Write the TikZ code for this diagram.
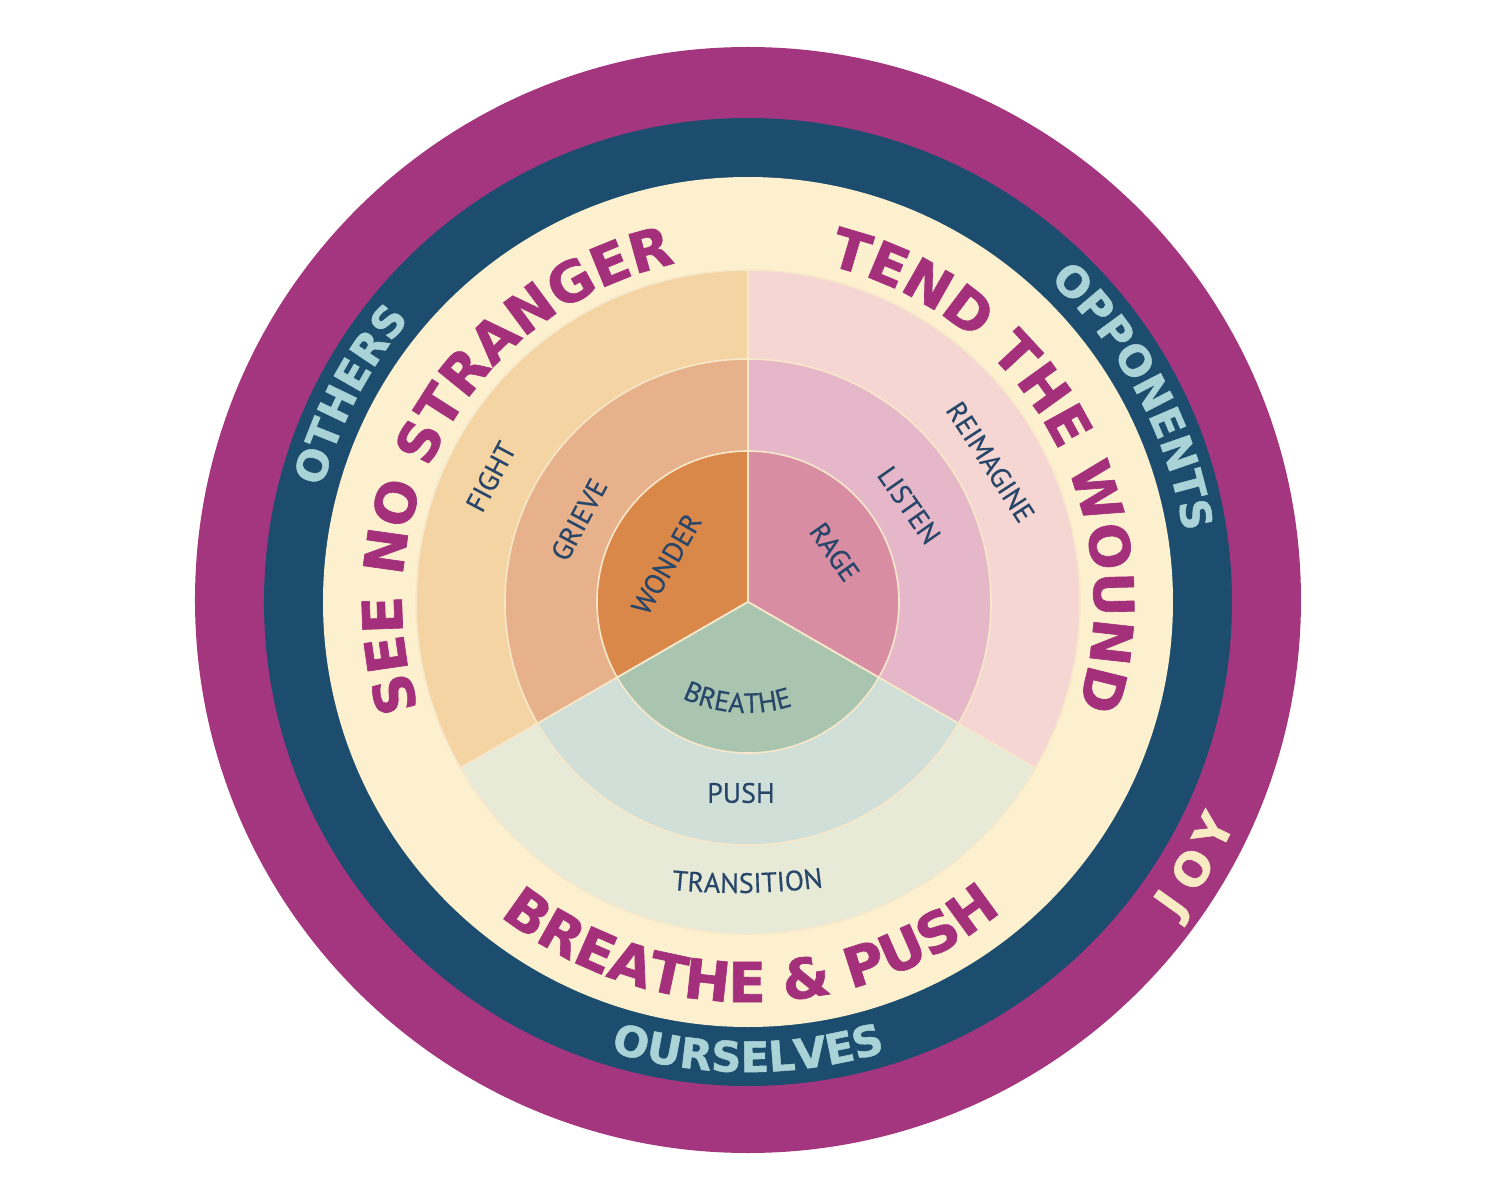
\documentclass[tikz,border=0pt]{standalone}
\usepackage{fontspec}
\usetikzlibrary{decorations.text}
\newfontfamily\ttlfont{DejaVu Sans}[UprightFont={* Bold}, FakeBold=1.2]
\newfontfamily\lblfont{PT Sans}[FakeBold=0.4]
\definecolor{ringmag}{HTML}{A3367F}
\definecolor{ringnavy}{HTML}{1C4C6E}
\definecolor{creamc}{HTML}{FCF0CE}
\definecolor{ttlc}{HTML}{A4307C}
\definecolor{ringtxt}{HTML}{A9D3D6}
\definecolor{joyc}{HTML}{F8EAC2}
\definecolor{lblc}{HTML}{27466A}
\definecolor{sepc}{HTML}{F7E8CB}
\definecolor{orA}{HTML}{F4D4A2}
\definecolor{orB}{HTML}{E7B28B}
\definecolor{orC}{HTML}{DA8849}
\definecolor{pkA}{HTML}{F5D6D2}
\definecolor{pkB}{HTML}{E6B7C8}
\definecolor{pkC}{HTML}{D98DA3}
\definecolor{gnA}{HTML}{E7EAD7}
\definecolor{gnB}{HTML}{D0DFD7}
\definecolor{gnC}{HTML}{A9C5AF}
\tikzset{
  sectorsep/.style={draw=sepc, line width=1.6pt},
  smalllbl/.style={font=\lblfont\fontsize{28}{28}\selectfont, text=lblc, inner sep=0pt},
  joyl/.style={font=\ttlfont\fontsize{46}{46}\selectfont, text=joyc, inner sep=0pt, anchor=base},
}
% text with tops outward (clockwise path): center, mid angle, radius, size, colour, text, half span
\newcommand\ArcTextOut[7]{%
  \begin{scope}[shift={#1}]
  \path[decorate, decoration={text along path, text align=center, text color=#5,
     text={|\ttlfont\fontsize{#4}{#4}\selectfont|#6}}]
     (#2+#7:#3) arc[start angle=#2+#7, end angle=#2-#7, radius=#3];
  \end{scope}}
% text with tops inward (counter-clockwise path)
\newcommand\ArcTextIn[8]{%
  \begin{scope}[shift={#1}]
  \path[decorate, decoration={text along path, text align=center, text color=#5,
     text={|#8\fontsize{#4}{#4}\selectfont|#6}}]
     (#2-#7:#3) arc[start angle=#2-#7, end angle=#2+#7, radius=#3];
  \end{scope}}
\begin{document}
\begin{tikzpicture}[x=1pt,y=1pt]
\useasboundingbox (-748,-598) rectangle (752,602);
\fill[white] (-748,-598) rectangle (752,602);
\fill[ringmag] (0,2) circle[radius=553];
\fill[ringnavy] (0,0) circle[radius=484];
\fill[creamc] (0,0) circle[radius=425];
\foreach \a/\b/\ca/\cb/\cc in {90/210/orA/orB/orC,-30/90/pkA/pkB/pkC,210/330/gnA/gnB/gnC}{
  \filldraw[fill=\ca, sectorsep] (0,0) -- (\a:332) arc[start angle=\a, end angle=\b, radius=332] -- cycle;
  \filldraw[fill=\cb, sectorsep] (0,0) -- (\a:243) arc[start angle=\a, end angle=\b, radius=243] -- cycle;
  \filldraw[fill=\cc, sectorsep] (0,0) -- (\a:151) arc[start angle=\a, end angle=\b, radius=151] -- cycle;
}
% titles on the cream ring
\ArcTextOut{(0,0)}{150}{346}{55}{ttlc}{SEE NO STRANGER}{80}
\ArcTextOut{(0,0)}{29.5}{346}{55}{ttlc}{TEND THE WOUND}{80}
\ArcTextIn{(0,0)}{270.5}{400}{55}{ttlc}{BREATHE {\&} PUSH}{80}{\ttlfont}
% labels on the blue ring
\ArcTextOut{(0,0)}{152.5}{441}{42}{ringtxt}{OTHERS}{60}
\ArcTextOut{(0,0)}{28}{441}{42}{ringtxt}{OPPONENTS}{60}
\ArcTextIn{(0,0)}{270}{470}{42}{ringtxt}{OURSELVES}{60}{\ttlfont}
% JOY on the magenta ring
\node[joyl, rotate=54.5] (joyJ) at (-35.5:535) {J};
\node[joyl, rotate=59] (joyO) at (-31:535) {O};
\node[joyl, rotate=63.8] (joyY) at (-26.2:535) {Y};
% sector labels
\node[smalllbl, rotate=62] (fight) at (154:286) {FIGHT};
\node[smalllbl, rotate=62] (grieve) at (154:188) {GRIEVE};
\node[smalllbl, rotate=60] (wonder) at (155:90) {WONDER};
\node[smalllbl, rotate=-55] (rage) at (30:100) {RAGE};
\node[smalllbl, rotate=-55] (listen) at (31:188) {LISTEN};
\node[smalllbl, rotate=-57] (reimagine) at (30:280) {REIMAGINE};
\node[smalllbl] (push) at (-7,-191) {PUSH};
\ArcTextIn{(-1,37)}{-94}{148}{28}{lblc}{BREATHE}{80}{\lblfont}
\ArcTextIn{(-12,370)}{-89}{661}{28}{lblc}{TRANSITION}{25}{\lblfont}
\end{tikzpicture}
\end{document}
